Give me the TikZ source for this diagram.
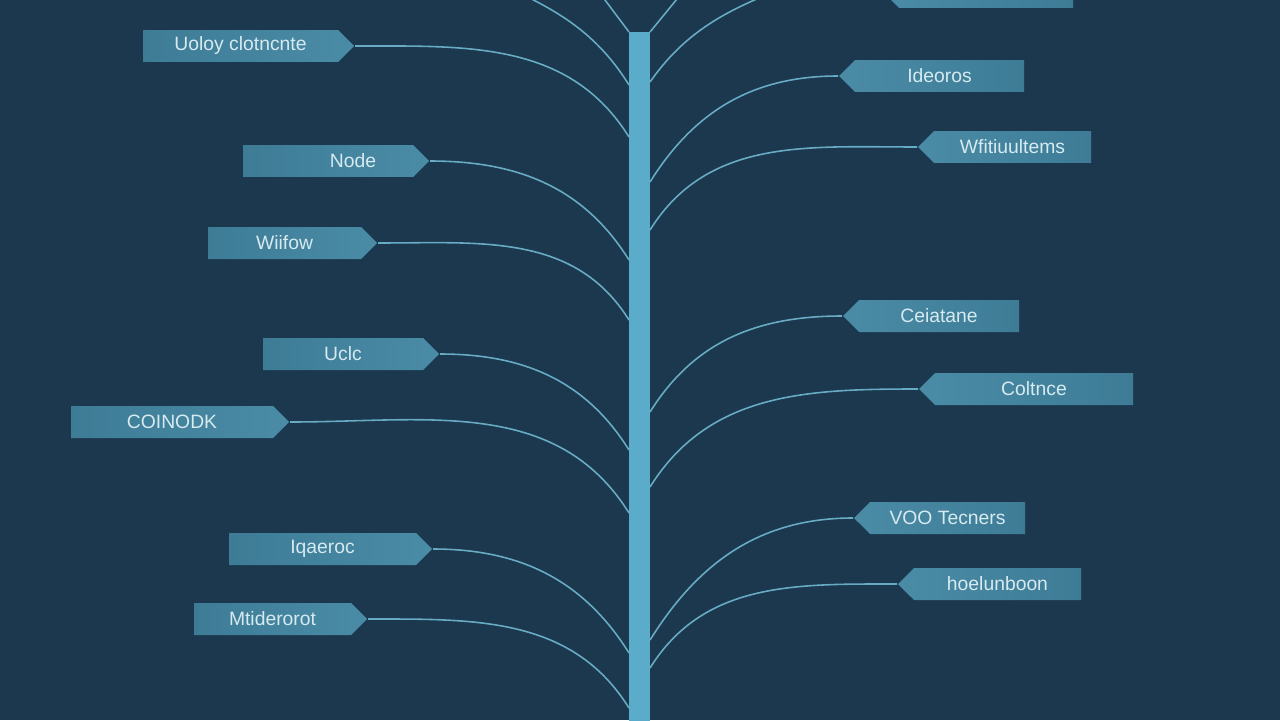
\documentclass[tikz,border=0pt]{standalone}
\usepackage{fontspec}
\setmainfont{Liberation Sans}
\usetikzlibrary{shapes.symbols}

\definecolor{bgnavy}{RGB}{27,56,79}
\definecolor{tagfill}{RGB}{62,124,150}
\definecolor{taglite}{RGB}{74,139,166}
\definecolor{tagtext}{RGB}{214,234,240}
\definecolor{twig}{RGB}{104,172,196}
\definecolor{stem}{RGB}{90,172,202}

\begin{document}
\begin{tikzpicture}
  [x=0.02cm, y=-0.02cm, font=\fontsize{11}{13}\selectfont, line width=0.8pt]
  \tikzset{tag/.style={signal, signal pointer angle=90, text=tagtext, minimum height=0.64cm, inner sep=0pt}}
  \tikzset{ltag/.style={tag, signal to=east, anchor=east, left color=tagfill, right color=taglite}}
  \tikzset{rtag/.style={tag, signal to=west, anchor=west, left color=taglite, right color=tagfill}}
  \tikzset{branch/.style={draw=twig, line width=0.9pt}}

  \useasboundingbox (0,0) rectangle (1280,720);
  \clip (0,0) rectangle (1280,720);
  \fill[bgnavy] (0,0) rectangle (1280,720);

  % trunk
  \fill[stem] (629,32) rectangle (650,730);
  \coordinate (TL) at (629,32);
  \coordinate (TR) at (650,32);
  \coordinate (UL) at (596,-12);
  \coordinate (UR) at (686,-12);
  \coordinate (OL) at (470,-30);
  \coordinate (OR) at (850,-40);

  % left tags
  \node [ltag, minimum width=211*0.02cm] (LA) at (355,46)  {Uoloy clotncnte};
  \node [ltag, minimum width=186*0.02cm] (LB) at (430,161) {\hspace*{1.0cm}Node};
  \node [ltag, minimum width=169*0.02cm] (LC) at (378,243) {Wiifow};
  \node [ltag, minimum width=176*0.02cm] (LD) at (440,354) {Uclc};
  \node [ltag, minimum width=218*0.02cm] (LE) at (290,422) {COINODK};
  \node [ltag, minimum width=203*0.02cm] (LF) at (433,549) {Iqaeroc};
  \node [ltag, minimum width=173*0.02cm] (LG) at (368,619) {Mtiderorot};

  % right tags
  \node [rtag, minimum width=190*0.02cm] (RA) at (882,-8)  {};
  \node [rtag, minimum width=185*0.02cm] (RB) at (838,76)  {Ideoros};
  \node [rtag, minimum width=173*0.02cm] (RC) at (917,147) {Wfitiuultems};
  \node [rtag, minimum width=176*0.02cm] (RD) at (842,316) {Ceiatane};
  \node [rtag, minimum width=214*0.02cm] (RE) at (918,389) {Coltnce};
  \node [rtag, minimum width=171*0.02cm] (RF) at (853,518) {VOO Tecners};
  \node [rtag, minimum width=183*0.02cm] (RG) at (897,584) {hoelunboon};

  % joints on the trunk
  \coordinate (jO) at (629,85);
  \coordinate (jA) at (629,137);
  \coordinate (jB) at (629,260);
  \coordinate (jC) at (629,320);
  \coordinate (jD) at (629,450);
  \coordinate (jE) at (629,513);
  \coordinate (jF) at (629,653);
  \coordinate (jG) at (629,708);
  \coordinate (kA) at (650,82);
  \coordinate (kB) at (650,182);
  \coordinate (kC) at (650,230);
  \coordinate (kD) at (650,412);
  \coordinate (kE) at (650,487);
  \coordinate (kF) at (650,640);
  \coordinate (kG) at (650,668);

  % top
  \draw[branch] (TL) -- (UL);
  \draw[branch] (TR) -- (UR);
  \draw[branch] (OL) to[out=-25,in=122] (jO);
  \draw[branch] (OR) to[out=205,in=55] (kA);

  % left
  \draw[branch] (LA.east) to[out=0,in=122] (jA);
  \draw[branch] (LB.east) to[out=0,in=122] (jB);
  \draw[branch] (LC.east) to[out=0,in=122] (jC);
  \draw[branch] (LD.east) to[out=0,in=122] (jD);
  \draw[branch] (LE.east) to[out=0,in=122] (jE);
  \draw[branch] (LF.east) to[out=0,in=122] (jF);
  \draw[branch] (LG.east) to[out=0,in=122] (jG);

  % right
  \draw[branch] (RB.west) to[out=180,in=58] (kB);
  \draw[branch] (RC.west) to[out=180,in=58] (kC);
  \draw[branch] (RD.west) to[out=180,in=58] (kD);
  \draw[branch] (RE.west) to[out=180,in=58] (kE);
  \draw[branch] (RF.west) to[out=180,in=58] (kF);
  \draw[branch] (RG.west) to[out=180,in=58] (kG);
\end{tikzpicture}
\end{document}
